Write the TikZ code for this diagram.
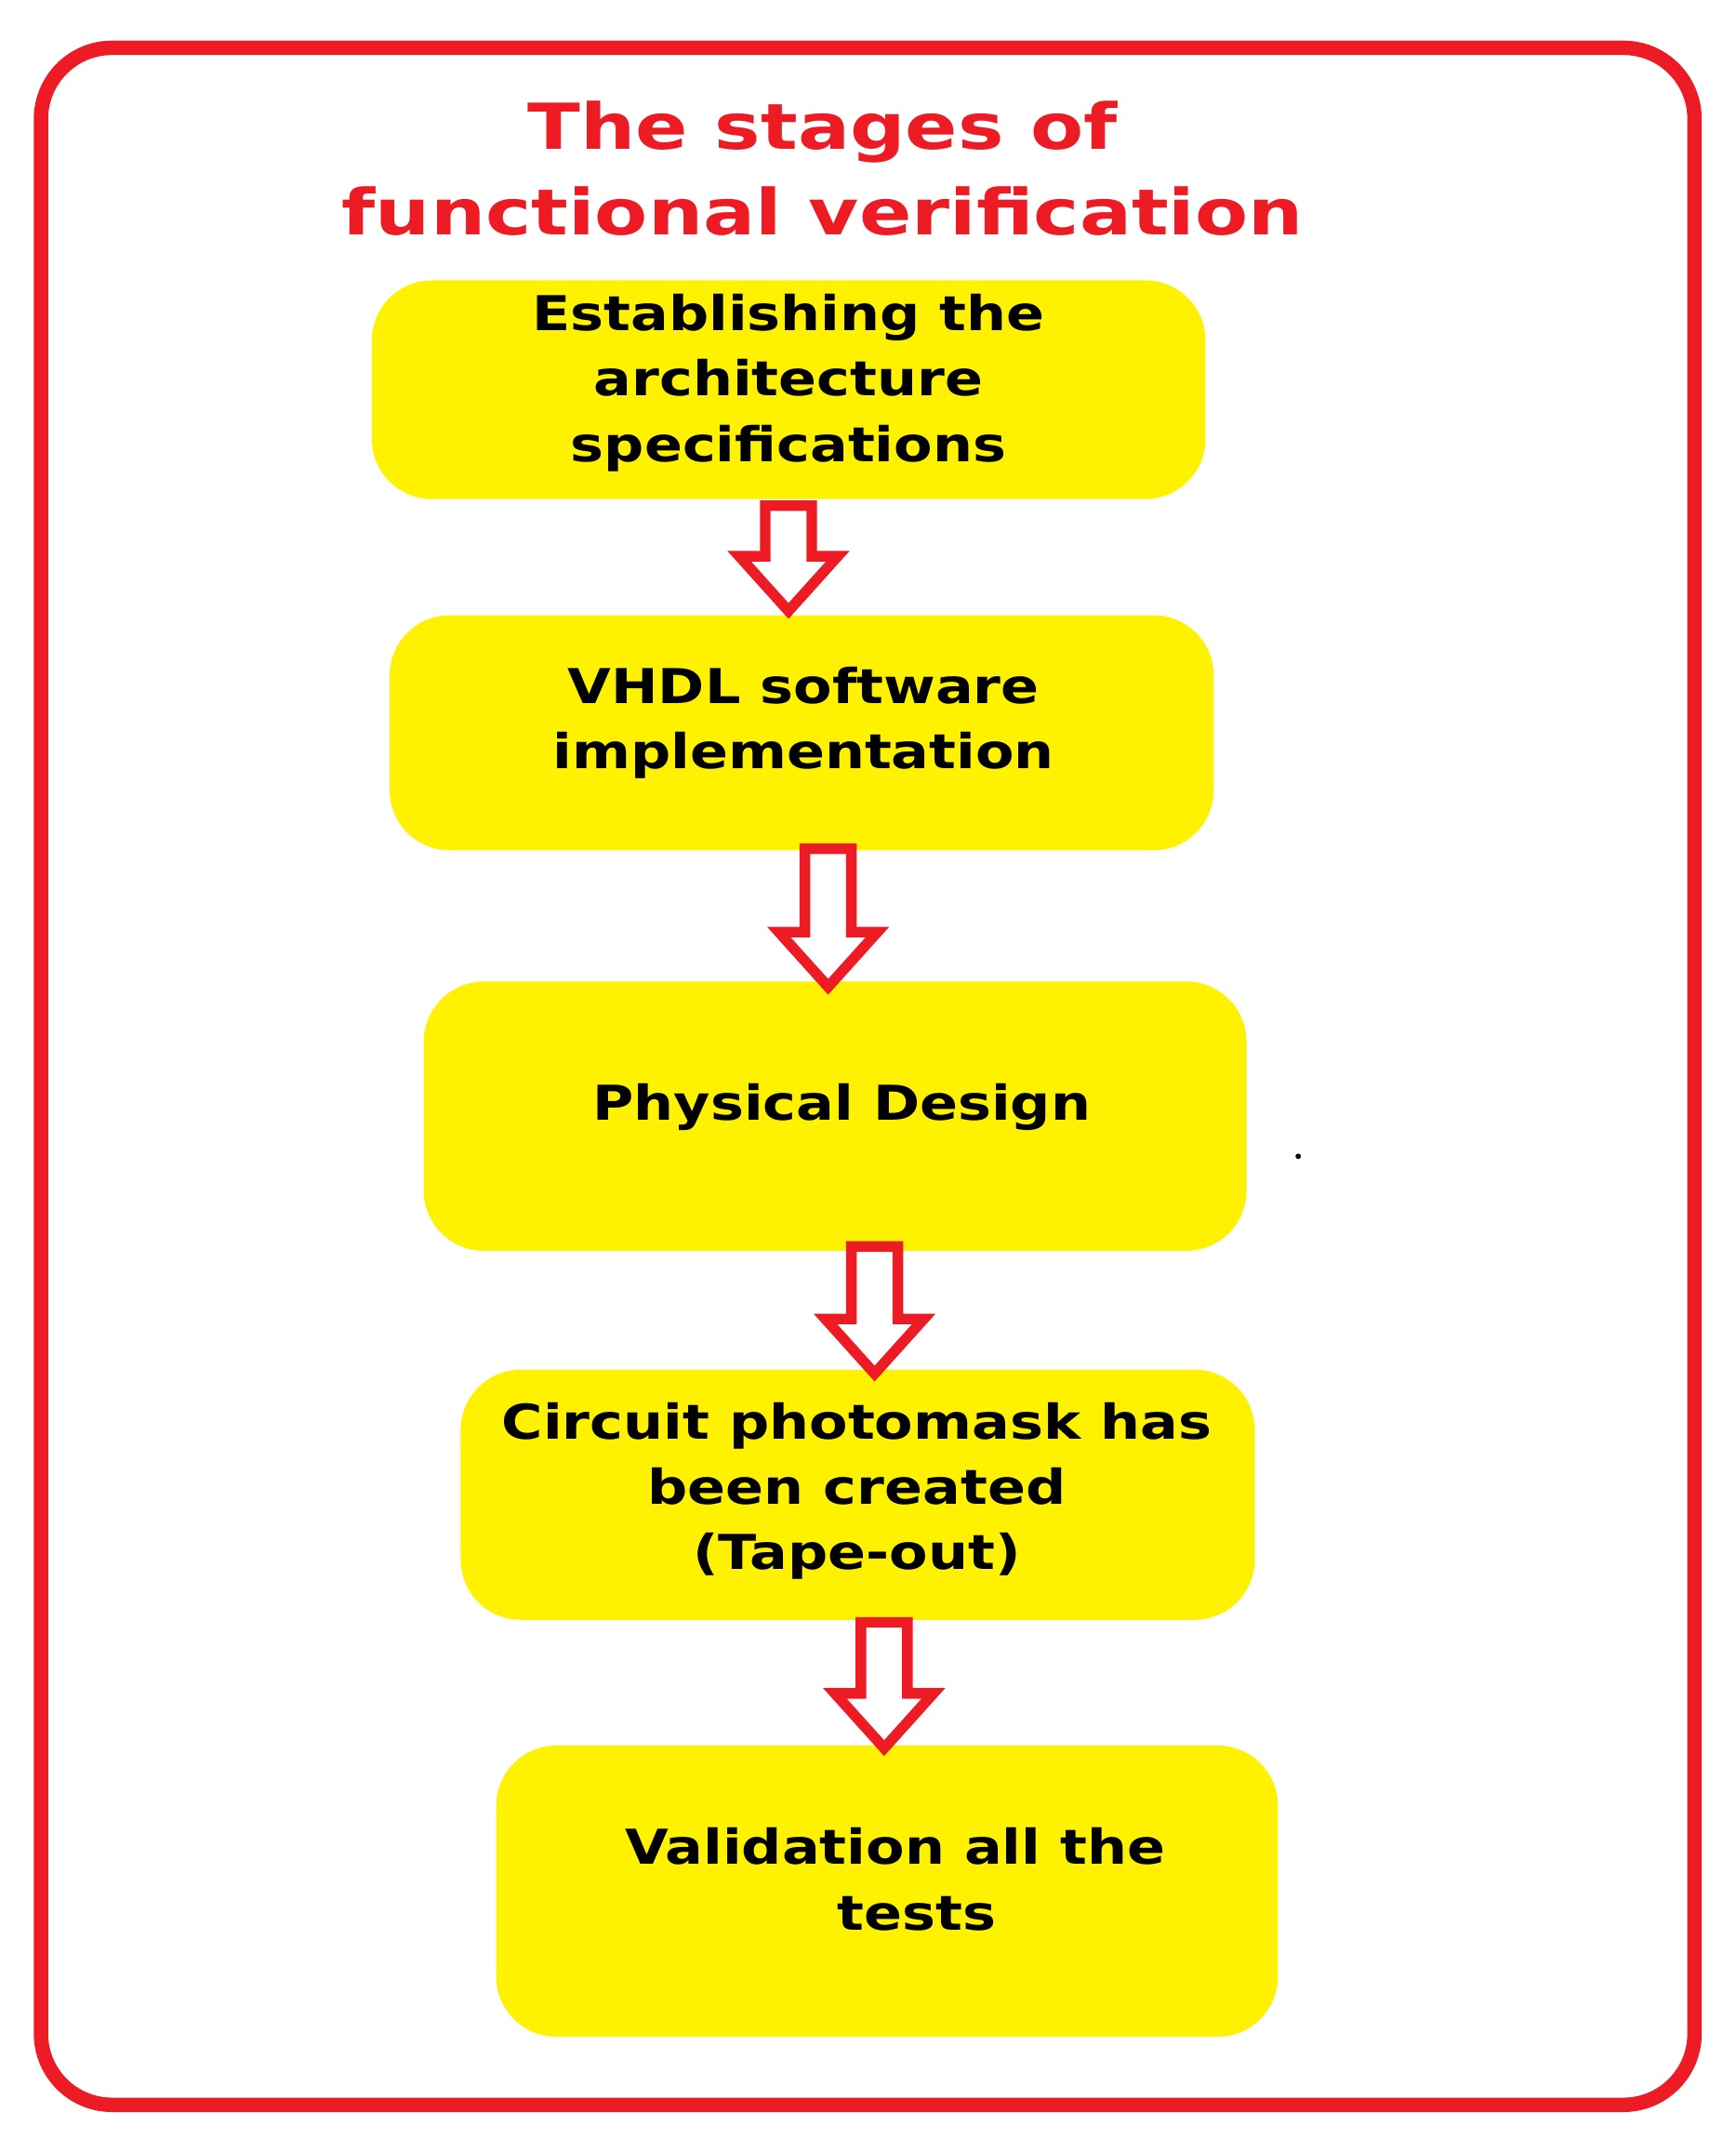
\documentclass[tikz,border=0pt]{standalone}
\usepackage{fontspec}
\setmainfont{DejaVu Sans}
\newfontfamily\boxfont[FakeStretch=1.17]{DejaVu Sans Bold}
\newfontfamily\titlefont[FakeStretch=1.22]{DejaVu Sans Bold}
\definecolor{myred}{RGB}{237,28,36}
\definecolor{myyellow}{RGB}{255,242,0}
\newcommand{\blockarrow}[3]{%
 \draw[arrowst] (#1-17,#2) -- (#1+17,#2) -- (#1+17,#3-40) -- (#1+36,#3-40) -- (#1,#3) -- (#1-36,#3-40) -- (#1-17,#3-40) -- cycle;}
\begin{document}
\begin{tikzpicture}[x=0.05cm,y=-0.05cm,
 box/.style={fill=myyellow,draw=none,rounded corners=2.2cm,anchor=north west,inner sep=0},
 lbl/.style={font=\fontsize{50}{68}\boxfont,align=center,text=black},
 arrowst/.style={draw=myred,fill=white,line width=11pt,line join=miter}]
\useasboundingbox (0,0) rectangle (1270,1565);
\draw[myred,line width=15pt,rounded corners=2.6cm] (30,35) rectangle (1240,1540);
\node[text=myred,font=\fontsize{66}{89}\titlefont,align=center] (title) at (602,123) {The stages of\\functional verification};
\node[box,minimum width=610*0.05cm,minimum height=160*0.05cm] (b1) at (272,205) {};
\node[lbl] (t1) at (577,280) {Establishing the\\architecture\\specifications};
\node[box,minimum width=603*0.05cm,minimum height=172*0.05cm] (b2) at (285,450) {};
\node[lbl] (t2) at (588,529) {VHDL software\\implementation};
\node[box,minimum width=602*0.05cm,minimum height=197*0.05cm] (b3) at (310,718) {};
\node[lbl] (t3) at (616,810) {Physical Design};
\node[box,minimum width=581*0.05cm,minimum height=183*0.05cm] (b4) at (337,1002) {};
\node[lbl] (t4) at (627,1091) {Circuit photomask has\\been created\\(Tape-out)};
\node[box,minimum width=572*0.05cm,minimum height=213*0.05cm] (b5) at (363,1277) {};
\node[lbl] (t5) at (655,1375) {Validation all the\\\hspace*{1.6cm}tests};
\blockarrow{577}{370}{447}
\blockarrow{606}{621}{722}
\blockarrow{640}{912}{1005}
\blockarrow{647}{1187}{1279}
\fill (950,846) circle (0.1cm);
\end{tikzpicture}
\end{document}
